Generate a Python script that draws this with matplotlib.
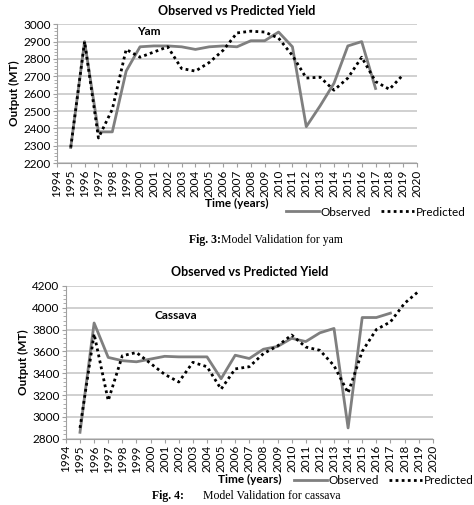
"""Observed vs predicted yield for yam and cassava (model validation)."""

import matplotlib
matplotlib.use("Agg")
import matplotlib.pyplot as plt
from matplotlib.ticker import MultipleLocator

years_obs = list(range(1995, 2018))
years_pred = list(range(1995, 2020))

yam_observed = [2290, 2900, 2380, 2380, 2730, 2870, 2875, 2875, 2870, 2855,
                2870, 2875, 2870, 2905, 2905, 2955, 2870, 2410, 2530, 2660,
                2875, 2900, 2630]
yam_predicted = [2290, 2900, 2345, 2510, 2855, 2810, 2840, 2870, 2745, 2730,
                 2780, 2850, 2950, 2960, 2955, 2920, 2820, 2690, 2695, 2620,
                 2690, 2810, 2670, 2625, 2710]

cassava_observed = [2860, 3860, 3545, 3515, 3505, 3530, 3555, 3550, 3550, 3550,
                    3350, 3565, 3535, 3620, 3645, 3720, 3690, 3770, 3810, 2900,
                    3910, 3910, 3950]
cassava_predicted = [2900, 3760, 3150, 3560, 3590, 3490, 3390, 3320, 3500, 3460,
                     3255, 3440, 3460, 3580, 3650, 3750, 3640, 3610, 3470, 3220,
                     3600, 3800, 3870, 4040, 4150]

year_ticks = list(range(1994, 2021))

plt.rcParams["font.family"] = ["Lato", "DejaVu Sans"]
plt.rcParams["font.size"] = 8

OBS_COLOR = "#7f7f7f"
GRID_COLOR = "#c8c8c8"
SERIF = "Liberation Serif"


def draw_panel(fig, rect, obs, pred, ylim, ystep, label, label_xy, legend_xy):
    ax = fig.add_axes(rect)
    ax.plot(years_obs, obs, color=OBS_COLOR, linewidth=2.0, label="Observed")
    ax.plot(years_pred, pred, color="black", linewidth=2.0, linestyle=(0, (1, 1.2)),
            label="Predicted")
    ax.set_xlim(1994, 2020)
    ax.set_ylim(*ylim)
    ax.set_xticks(year_ticks)
    ax.set_xticklabels([str(y) for y in year_ticks], rotation=90)
    ax.yaxis.set_major_locator(MultipleLocator(ystep))
    ax.yaxis.set_minor_locator(MultipleLocator(ystep / 5))
    ax.grid(True, axis="y", color=GRID_COLOR, linewidth=1.2)
    ax.set_axisbelow(True)
    for side in ("top", "right"):
        ax.spines[side].set_visible(False)
    for side in ("left", "bottom"):
        ax.spines[side].set_color("#a0a0a0")
    ax.tick_params(axis="both", which="major", color="#a0a0a0", length=3,
                   labelsize=8.5, pad=1.5)
    ax.tick_params(axis="y", which="minor", color="#a0a0a0", length=2)
    ax.set_xlabel("Time (years)", fontweight="bold", fontsize=8.5, labelpad=1)
    ax.set_ylabel("Output (MT)", fontweight="bold", fontsize=8.5, labelpad=2)
    ax.set_title("Observed vs Predicted Yield", fontweight="bold", fontsize=9,
                 pad=7)
    ax.text(label_xy[0], label_xy[1], label, fontweight="bold", fontsize=8.5,
            ha="left", va="center")
    fig.legend(*ax.get_legend_handles_labels(), loc="center left",
               bbox_to_anchor=legend_xy, ncol=2, frameon=False, fontsize=8.5,
               handlelength=2.8, handletextpad=0.15, columnspacing=0.8,
               borderaxespad=0, borderpad=0)
    return ax


fig = plt.figure(figsize=(4.74, 5.05), dpi=100)

draw_panel(fig, [0.120, 0.677, 0.760, 0.275], yam_observed, yam_predicted,
           (2200, 3000), 100, "Yam", (1999.8, 2960), (0.603, 0.580))
fig.text(0.466, 0.525, "Fig. 3:", ha="right", va="center", fontsize=8.5,
         fontweight="bold", family=SERIF)
fig.text(0.466, 0.525, "Model Validation for yam", ha="left", va="center",
         fontsize=8.5, family=SERIF)

draw_panel(fig, [0.139, 0.131, 0.774, 0.303], cassava_observed, cassava_predicted,
           (2800, 4200), 200, "Cassava", (2000.3, 3930), (0.620, 0.049))
fig.text(0.388, 0.018, "Fig. 4:", ha="right", va="center", fontsize=8.5,
         fontweight="bold", family=SERIF)
fig.text(0.428, 0.018, "Model Validation for cassava", ha="left", va="center",
         fontsize=8.5, family=SERIF)

fig.savefig("out.png", dpi=100)
